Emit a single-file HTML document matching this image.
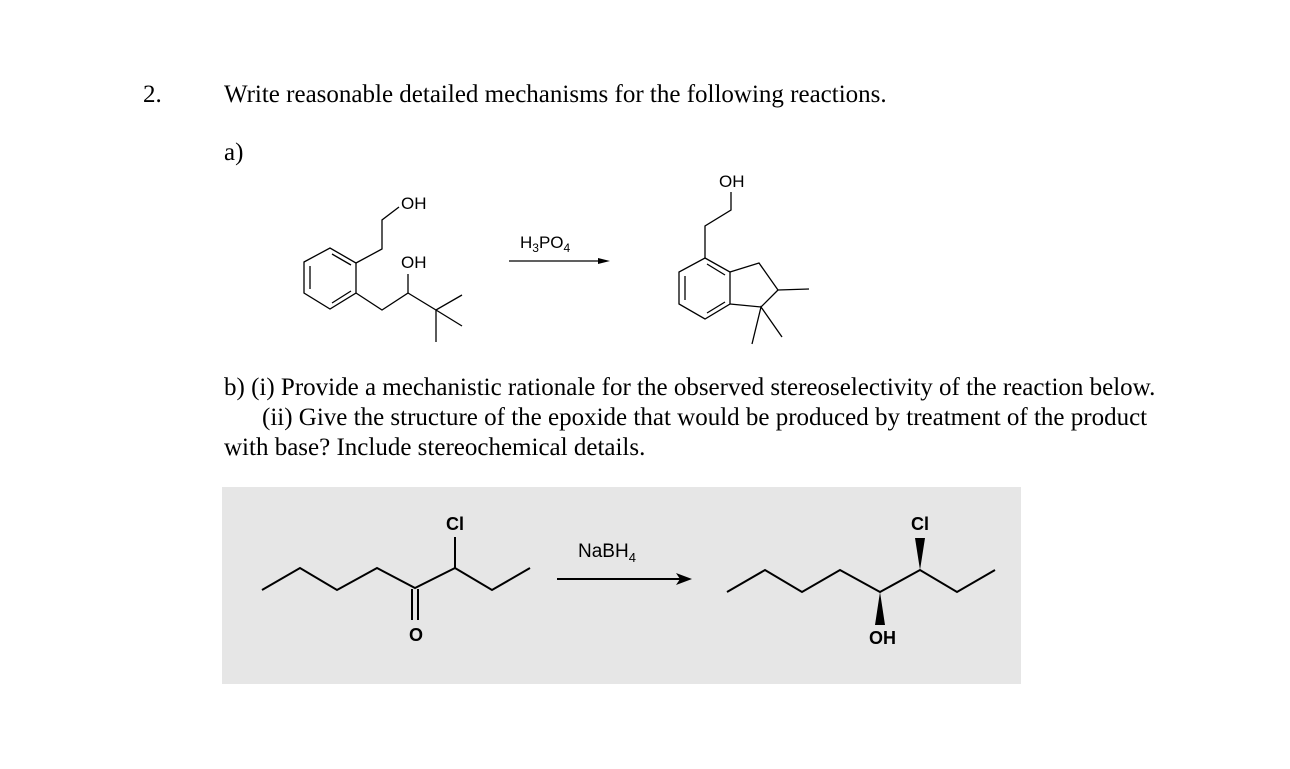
<!DOCTYPE html>
<html><head><meta charset="utf-8"><style>
body{margin:0;background:#fff;width:1290px;height:769px;overflow:hidden;position:relative;font-family:"Liberation Serif",serif;}
.t{position:absolute;font-size:25px;color:#000;white-space:nowrap;line-height:30px;}
svg{position:absolute;left:0;top:0;}
</style></head><body>
<div class="t" style="left:143px;top:80px">2.</div>
<div class="t" style="left:224px;top:80px">Write reasonable detailed mechanisms for the following reactions.</div>
<div class="t" style="left:224px;top:138px">a)</div>
<div class="t" style="left:224px;top:373px">b) (i) Provide a mechanistic rationale for the observed stereoselectivity of the reaction below.</div>
<div class="t" style="left:262px;top:403px">(ii) Give the structure of the epoxide that would be produced by treatment of the product</div>
<div class="t" style="left:224px;top:433px">with base? Include stereochemical details.</div>
<svg width="1290" height="769" font-family="Liberation Sans, sans-serif">
<rect x="222" y="487" width="799" height="197" fill="#e6e6e6"/>
<g stroke="#000" stroke-width="1.3" fill="none">
<polygon points="304,262 330,248 356,263 356,293 330,309 304,293"/>
<line x1="310" y1="266" x2="310" y2="289"/><line x1="332" y1="254" x2="351" y2="265"/><line x1="332" y1="303" x2="351" y2="291"/>
<polyline points="356,263 382,249 382,220 399,207"/>
<polyline points="356,293 382,310 408,293 408,274"/>
<polyline points="408,293 436,310 462,295"/><polyline points="436,310 462,326"/><polyline points="436,310 436,342"/>
<line x1="509" y1="261" x2="600" y2="261"/>
<polygon points="705,258 730,272 730,304 705,319 679,304 679,272"/>
<line x1="685" y1="276" x2="685" y2="300"/><line x1="707" y1="264" x2="725" y2="275"/><line x1="707" y1="313" x2="725" y2="302"/>
<polyline points="730,272 759,263 778,290 761,307 730,304"/>
<line x1="778" y1="290" x2="809" y2="289"/>
<polyline points="752,344 761,307 782,337"/>
<polyline points="705,258 705,226 731,210 731,192"/>
</g>
<polygon points="610,261 598,258 598,264" fill="#000"/>
<text x="401" y="209" font-size="17">OH</text>
<text x="401" y="268" font-size="17">OH</text>
<text x="520" y="248" font-size="17">H<tspan font-size="12" dy="4">3</tspan><tspan dy="-4">PO</tspan><tspan font-size="12" dy="4">4</tspan></text>
<text x="719" y="187" font-size="17">OH</text>
<g stroke="#000" stroke-width="2" fill="none">
<polyline points="262,590 300,568 337,590 377,568 415,588 455,568 492,590 530,568"/>
<line x1="455" y1="568" x2="455" y2="537"/>
<line x1="412" y1="589" x2="412" y2="620"/><line x1="418" y1="589" x2="418" y2="620"/>
<line x1="557" y1="579" x2="680" y2="579"/>
<polyline points="727,592 765,570 802,592 840,570 880,592 920,570 957,592 995,570"/>
</g>
<polygon points="692,579 676,573 680,579 676,585" fill="#000"/>
<polygon points="920,570 915,538 925,538" fill="#000"/>
<polygon points="880,592 875,625 885,625" fill="#000"/>
<g font-size="18" font-weight="bold">
<text x="446" y="530">Cl</text>
<text x="409" y="641">O</text>
<text x="578" y="557" font-weight="normal" font-size="19">NaBH<tspan font-size="13" dy="5">4</tspan></text>
<text x="911" y="530">Cl</text>
<text x="869" y="644">OH</text>
</g>
</svg>
</body></html>
